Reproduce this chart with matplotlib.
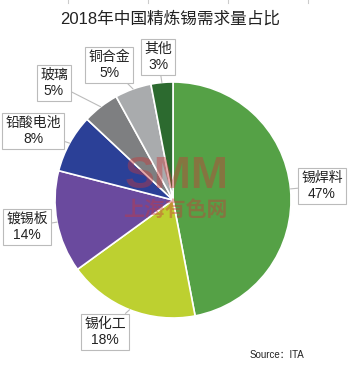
import matplotlib.pyplot as plt
import numpy as np
from matplotlib.lines import Line2D

plt.rcParams['font.family'] = ['Liberation Sans', 'Noto Sans CJK SC', 'DejaVu Sans']

# data
labels = ['锡焊料', '锡化工', '镀锡板', '铅酸电池', '玻璃', '铜合金', '其他']
shares = [47, 18, 14, 8, 5, 5, 3]
colors = ['#55A146', '#BDD030', '#6A4A9E', '#2B4097', '#7E7F81', '#A9ABAD', '#2C6A2F']

# label box centres (pixel coords, y from top)
box_pos = [(322, 186), (105, 332), (27, 227), (33, 131), (54, 83), (109, 65), (158, 57)]

W, H = 354, 371
fig = plt.figure(figsize=(W / 100, H / 100), dpi=100)
ax = fig.add_axes([0, 0, 1, 1])

cx, cy, r = 173, H - 200, 118
wedges, _ = ax.pie(shares, colors=colors, startangle=90, counterclock=False,
                   center=(cx, cy), radius=r,
                   wedgeprops=dict(edgecolor='white', linewidth=1.2))

# labels with leader lines
total = sum(shares)
start = 90.0
for lab, val, (bx, by) in zip(labels, shares, box_pos):
    mid = np.deg2rad(start - val / total * 360 / 2)
    start -= val / total * 360
    px, py = cx + r * np.cos(mid), cy + r * np.sin(mid)
    ax.annotate(f'{lab}\n{val}%', xy=(px, py), xytext=(bx, H - by),
                ha='center', va='center', fontsize=10, color='#222222',
                linespacing=1.2,
                bbox=dict(boxstyle='square,pad=0.22', fc='white', ec='#BBBBBB', lw=0.8),
                arrowprops=dict(arrowstyle='-', color='#BBBBBB', lw=0.8,
                                shrinkA=0, shrinkB=0))

# watermark
ax.text(177, H - 176, 'SMM', ha='center', va='center', fontsize=32,
        fontweight='bold', color='#C8383A', alpha=0.42, zorder=5)
ax.text(175, H - 209, '上海有色网', ha='center', va='center', fontsize=15,
        fontweight='bold', family='Noto Sans CJK SC', color='#C8383A', alpha=0.42, zorder=5)

ax.set_xlim(0, W)
ax.set_ylim(0, H)
ax.set_aspect('equal')
ax.axis('off')

fig.text(170 / W, 1 - 19 / H, '2018年中国精炼锡需求量占比', ha='center', va='center',
         fontsize=12, color='#222222')
fig.text(250 / W, 1 - 355 / H, 'Source：ITA', ha='left', va='center',
         fontsize=7, color='#222222')

# thin marks along the top edge
for x in [68, 148, 228, 308]:
    fig.add_artist(Line2D([x / W, x / W], [1, 1 - 3 / H], color='#CCCCCC', lw=0.8))

fig.savefig('out.png', dpi=100)
plt.close(fig)
